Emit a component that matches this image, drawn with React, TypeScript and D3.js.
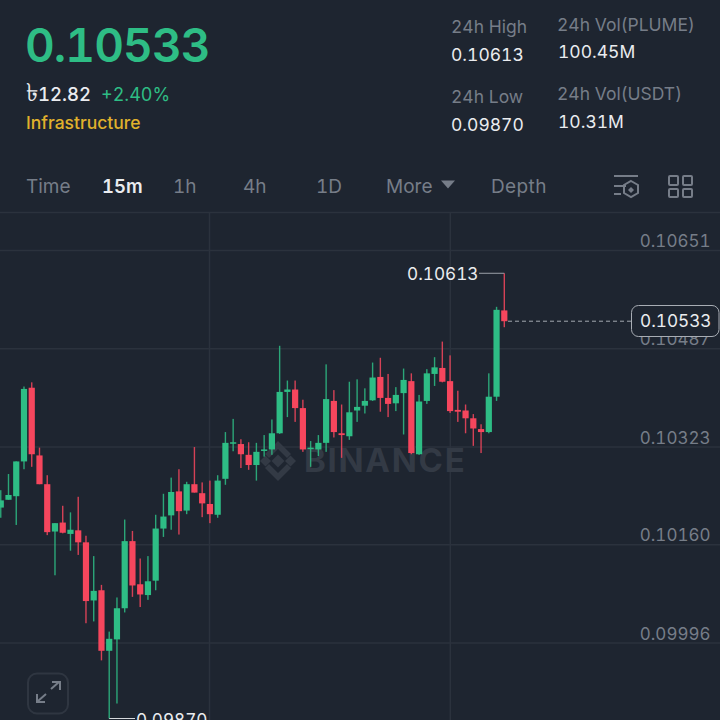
import React from "react";
import * as d3 from "d3";

const opens = [10222,10235,10241,10299,10422,10309,10261,10182,10197,10178,10184,10164,10067,10084,9983,10002,10054,10166,10094,10076,10100,10187,10209,10249,10217,10261,10246,10228,10210,10270,10329,10328,10310,10293,10317,10319,10346,10415,10419,10388,10320,10319,10330,10400,10346,10341,10384,10392,10401,10440,10405,10396,10413,10433,10311,10400,10445,10455,10433,10385,10384,10371,10353,10348,10407,10551];
const highs = [10251,10278,10299,10424,10431,10322,10276,10196,10225,10214,10240,10175,10141,10093,10015,10072,10202,10183,10137,10141,10210,10245,10272,10286,10265,10323,10264,10267,10276,10348,10370,10336,10331,10330,10343,10369,10492,10434,10434,10402,10333,10343,10461,10418,10394,10432,10436,10421,10464,10472,10445,10423,10454,10446,10410,10453,10473,10499,10476,10417,10394,10378,10361,10446,10557,10613];
const lows = [10205,10235,10193,10286,10290,10261,10176,10109,10179,10150,10143,10029,10032,9967,9870,9895,10047,10073,10056,10068,10084,10173,10185,10177,10211,10247,10206,10196,10205,10260,10316,10288,10285,10267,10307,10310,10345,10373,10365,10315,10290,10308,10315,10339,10305,10335,10365,10379,10400,10382,10373,10383,10344,10311,10310,10395,10425,10431,10380,10365,10346,10325,10313,10346,10400,10523];
const closes = [10234,10243,10299,10420,10311,10261,10181,10196,10180,10185,10164,10066,10083,9983,10003,10054,10166,10092,10077,10099,10187,10207,10248,10216,10261,10247,10229,10211,10267,10330,10331,10311,10293,10315,10319,10346,10415,10419,10388,10319,10322,10330,10403,10348,10343,10381,10390,10400,10439,10405,10395,10410,10435,10313,10399,10446,10456,10432,10383,10382,10371,10354,10348,10407,10552,10533];
const priceTicks = ["0.10651", "0.10487", "0.10323", "0.10160", "0.09996"];
const tabs = ["Time", "15m", "1h", "4h", "1D", "More", "Depth"];
const tabX = [26, 102, 173, 243, 316, 386, 491];

const BG = "#1e2530";
const UP = "#2ebd85";
const DOWN = "#f6465d";
const GRID = "#2b323d";
const MUTED = "#767d88";
const WHITE = "#eaecef";
const FONT = "Inter, 'Noto Sans', sans-serif";

const x = d3.scaleLinear().domain([0, 65]).range([0.75, 504.3]);
const y = d3.scaleLinear().domain([9996, 10651]).range([643, 250.5]);

export default function App() {
  const high = 10613, low = 9870, last = 10533;
  return (
    <svg width={720} height={720} viewBox="0 0 720 720" style={{ position: "fixed", left: 0, top: 0, display: "block", fontVariantNumeric: "tabular-nums" }} fontFamily={FONT}>
      <rect width={720} height={720} fill={BG} />
      <text x={25} y={62} fontSize={46} fontWeight={600} letterSpacing={-0.9} fill={UP}>0.10533</text>
      <text x={26} y={101} fontSize={18.5} fontWeight={500} fill={WHITE}><tspan fontSize={25}>৳</tspan>12.82</text>
      <text x={101} y={101} fontSize={18} fill={UP}>+2.40%</text>
      <text x={26} y={129} fontSize={17.5} fontWeight={500} fill="#e0b12c">Infrastructure</text>

      <text x={451} y={33} fontSize={17.5} fill={MUTED}>24h High</text>
      <text x={451} y={61} fontSize={17.5} fill={WHITE}>0.10613</text>
      <text x={451} y={103} fontSize={17.5} fill={MUTED}>24h Low</text>
      <text x={451} y={131} fontSize={17.5} fill={WHITE}>0.09870</text>
      <text x={557} y={31} fontSize={17.5} fill={MUTED}>24h Vol(PLUME)</text>
      <text x={558} y={58} fontSize={17.5} fill={WHITE}>100.45M</text>
      <text x={557} y={100} fontSize={17.5} fill={MUTED}>24h Vol(USDT)</text>
      <text x={558} y={128} fontSize={17.5} fill={WHITE}>10.31M</text>

      {tabs.map((t, i) => (
        <text key={t} x={tabX[i]} y={193} fontSize={t === "15m" ? 18.5 : 19} fontWeight={t === "15m" ? 600 : 400} letterSpacing={t === "Depth" ? 0.4 : 0} fill={t === "15m" ? WHITE : MUTED}>{t}</text>
      ))}
      <path d="M441 180.5h14l-7 8z" fill={MUTED} />
      <g fill="none" stroke={MUTED} strokeWidth={2}>
        <path d="M614 176h24M614 186h12M614 194h7" />
        <path d="M631 181l7 4v8l-7 4-7-4v-8z" />
        <rect x={669} y={176} width={9} height={9} rx={1} />
        <rect x={683} y={176} width={9} height={9} rx={1} />
        <rect x={669} y={189} width={9} height={8} rx={1} />
        <rect x={683} y={189} width={9} height={8} rx={1} />
      </g>
      <path d="M631 187l3 3-3 3-3-3z" fill={MUTED} />

      <line x1={0} x2={720} y1={212.5} y2={212.5} stroke={GRID} strokeWidth={1.5} />
      {priceTicks.map((t) => (
        <line key={t} x1={0} x2={720} y1={y(+t * 1e5)} y2={y(+t * 1e5)} stroke={GRID} strokeWidth={1.5} />
      ))}
      {[209.5, 450.3].map((vx) => (
        <line key={vx} x1={vx} x2={vx} y1={213} y2={720} stroke={GRID} strokeWidth={1.5} />
      ))}

      <g transform="translate(278 461)" fill="#333a45">
        <path d="M0 -6.5L6.5 0L0 6.5L-6.5 0Z" />
        <path d="M-18 0L-12.5 -5.5L-7 0L-12.5 5.5Z" />
        <path d="M18 0L12.5 -5.5L7 0L12.5 5.5Z" />
        <path d="M0 -20L13 -7L9 -3L0 -12L-9 -3L-13 -7Z" />
        <path d="M0 20L13 7L9 3L0 12L-9 3L-13 7Z" />
      </g>
      <text x={304} y={472} fontSize={33} fontWeight={700} letterSpacing={1.7} fill="#333a45">BINANCE</text>

      {priceTicks.map((t) => (
        <text key={t} x={710.5} y={y(+t * 1e5) - 3.5} textAnchor="end" fontSize={17} fill={MUTED}>{t}</text>
      ))}

      {opens.map((o, i) => {
        const c = closes[i];
        const color = c >= o ? UP : DOWN;
        const top = y(Math.max(o, c));
        const bot = y(Math.min(o, c));
        return (
          <g key={i} fill={color}>
            <rect x={x(i) - 0.7} width={1.4} y={y(highs[i])} height={y(lows[i]) - y(highs[i])} opacity={0.85} />
            <rect x={x(i) - 3.1} width={6.2} y={top} height={Math.max(bot - top, 1.5)} />
          </g>
        );
      })}

      <path d={`M${x(65)} ${y(high)}H479`} fill="none" stroke="#9aa0a8" strokeWidth={1} />
      <text x={407} y={279.5} fontSize={17.2} fill={WHITE}>0.10613</text>
      <path d={`M${x(14)} ${y(low)}H135`} fill="none" stroke="#d5d8dc" strokeWidth={1} />
      <text x={136} y={726} fontSize={17.2} fill={WHITE}>0.09870</text>

      <line x1={508} x2={631} y1={y(last)} y2={y(last)} stroke="#a4a9b0" strokeWidth={1} strokeDasharray="4 3" />
      <rect x={631.5} y={305.5} width={87.5} height={31} rx={7} fill={BG} stroke="#a8adb4" strokeWidth={1} />
      <text x={640} y={327} fontSize={17.2} fill={WHITE}>0.10533</text>

      <rect x={28} y={673.5} width={40} height={40} rx={9} fill="none" stroke="#2f3641" strokeWidth={2} />
      <g fill="none" stroke="#767d88" strokeWidth={2}>
        <path d="M51 689L59 682M52 682H60V690" />
        <path d="M46 694L38 701M37 694V702H45" />
      </g>
    </svg>
  );
}
